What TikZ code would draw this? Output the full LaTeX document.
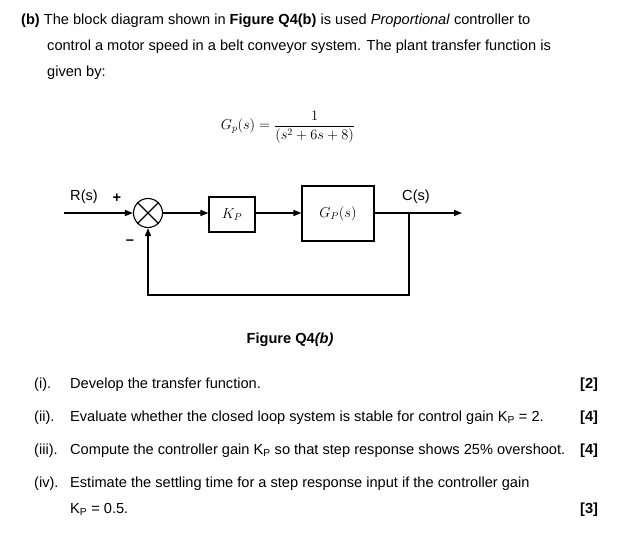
\documentclass[tikz,border=0pt]{standalone}
\usepackage{fontspec}
\setmainfont{Liberation Sans}
\usepackage{amsmath}
\usetikzlibrary{arrows.meta}
\begin{document}
\begin{tikzpicture}[x=1pt,y=-1pt,font=\fontsize{14.6}{17}\selectfont,
  blk/.style={draw,line width=1.1pt,inner sep=0},
  ar/.style={line width=1.2pt,-{Triangle[length=8pt,width=6pt]}},
  txt/.style={anchor=base west,inner sep=0}]
\useasboundingbox (0,0) rectangle (632,535);
% text
\node[txt] (t1) at (21,25) {\textbf{(b)} The block diagram shown in \textbf{Figure Q4(b)} is used \textit{Proportional} controller to};
\node[txt] (t2) at (47,51) {control a motor speed in a belt conveyor system. The plant transfer function is};
\node[txt] (t3) at (47,77) {given by:};
\node (eq) at (288,127) {$G_p(s)=\dfrac{1}{(s^2+6s+8)}$};
% diagram
\coordinate (in) at (64,213);
\node[draw,line width=1.1pt,circle,minimum size=29pt,inner sep=0] (sum) at (148,213) {};
\draw[line width=1.1pt] (sum.north west)--(sum.south east) (sum.north east)--(sum.south west);
\node[blk,minimum width=46pt,minimum height=35pt] (kp) at (232,214.5) {$K_P$};
\node[blk,minimum width=72pt,minimum height=55pt] (gp) at (338,213.5) {$G_P(s)$};
\coordinate (out) at (462,213);
\coordinate (br) at (409,213);
\coordinate (bl) at (409,295);
\coordinate (bb) at (148,295);
\draw[ar] (in)--(sum.west);
\draw[ar] (sum.east)--(kp.west|-sum.east);
\draw[ar] (kp.east|-sum.east)--(gp.west|-sum.east);
\draw[ar] (gp.east|-sum.east)--(out);
\draw[ar] (br)--(bl)--(bb)--(sum.south);
\node (r) at (84,197) {R(s)};
\node (p) at (117,198) {\textbf{+}};
\node (m) at (130,242) {\textbf{--}};
\node (c) at (416,197) {C(s)};
\node (fig) at (290,340) {\textbf{Figure Q4\textit{(b)}}};
% items
\node[txt] (i1) at (34,388) {(i).};
\node[txt] (q1) at (70,388) {Develop the transfer function.};
\node[txt] (s1) at (580,388) {\textbf{[2]}};
\node[txt] (i2) at (34,421) {(ii).};
\node[txt] (q2) at (70,421) {Evaluate whether the closed loop system is stable for control gain K\textsubscript{P} = 2.};
\node[txt] (s2) at (580,421) {\textbf{[4]}};
\node[txt] (i3) at (34,454) {(iii).};
\node[txt] (q3) at (70,454) {Compute the controller gain K\textsubscript{P} so that step response shows 25\% overshoot.};
\node[txt] (s3) at (580,454) {\textbf{[4]}};
\node[txt] (i4) at (34,487) {(iv).};
\node[txt] (q4) at (70,487) {Estimate the settling time for a step response input if the controller gain};
\node[txt] (q5) at (70,513) {K\textsubscript{P} = 0.5.};
\node[txt] (s4) at (580,513) {\textbf{[3]}};
\end{tikzpicture}
\end{document}
